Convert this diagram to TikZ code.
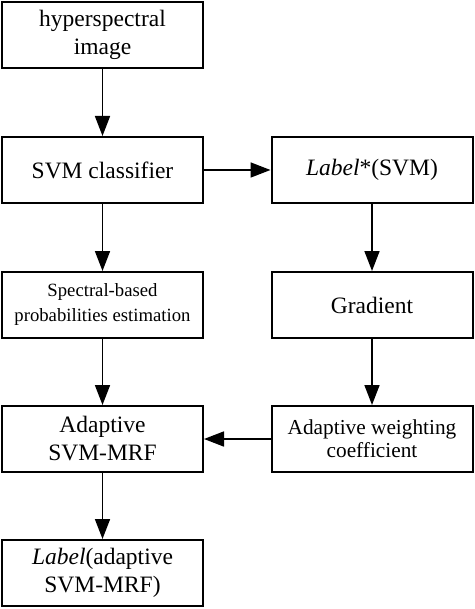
\documentclass[tikz,border=0pt]{standalone}
\usepackage{fontspec}
\setmainfont{Liberation Serif}
\usetikzlibrary{arrows.meta}
\tikzset{
  box/.style={draw, line width=2pt, minimum width=201pt, minimum height=66pt, align=center, inner sep=0pt, font=\fontsize{23.5}{28}\selectfont},
  smallbox/.style={box, font=\fontsize{18.7}{25}\selectfont},
  midbox/.style={box, font=\fontsize{21.3}{23}\selectfont},
  conn/.style={line width=1.7pt, -{Triangle[length=20pt,width=15pt]}}
}
\begin{document}
\begin{tikzpicture}[x=1pt,y=-1pt]
\useasboundingbox (0,0) rectangle (474,609);
\node[box] (hs) at (102.5,35) {hyperspectral\\image};
\node[box] (svm) at (102.5,170) {SVM classifier};
\node[smallbox] (spec) at (102.5,305) {Spectral-based\\probabilities estimation};
\node[box] (amrf) at (102.5,439) {Adaptive\\SVM-MRF};
\node[box] (lab) at (102.5,573) {\textit{Label}(adaptive\\SVM-MRF)};
\node[box] (lsvm) at (372,170) {\textit{Label}*(SVM)};
\node[box] (grad) at (372,305) {Gradient};
\node[midbox] (awc) at (372,439) {Adaptive weighting\\coefficient};
\draw[conn] (hs) -- (svm);
\draw[conn] (svm) -- (spec);
\draw[conn] (spec) -- (amrf);
\draw[conn] (amrf) -- (lab);
\draw[conn] (svm) -- (lsvm);
\draw[conn] (lsvm) -- (grad);
\draw[conn] (grad) -- (awc);
\draw[conn] (awc) -- (amrf);
\end{tikzpicture}
\end{document}
